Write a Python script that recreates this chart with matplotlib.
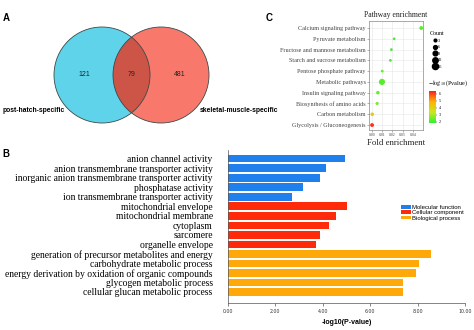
import numpy as np
import matplotlib
matplotlib.use("Agg")
import matplotlib.pyplot as plt
from matplotlib.patches import Circle, Patch
from matplotlib.lines import Line2D
from matplotlib.colors import LinearSegmentedColormap, Normalize

# ---- A: venn ----
venn_sets = ["post-hatch-specific", "skeletal-muscle-specific"]
venn_counts = [121, 79, 481]  # only left, shared, only right

# ---- B: GO terms ----
go_terms = [
    "anion channel activity",
    "anion transmembrane transporter activity",
    "inorganic anion transmembrane transporter activity",
    "phosphatase activity",
    "ion transmembrane transporter activity",
    "mitochondrial envelope",
    "mitochondrial membrane",
    "cytoplasm",
    "sarcomere",
    "organelle envelope",
    "generation of precursor metabolites and energy",
    "carbohydrate metabolic process",
    "energy derivation by oxidation of organic compounds",
    "glycogen metabolic process",
    "cellular glucan metabolic process",
]
go_logp = [4.93, 4.15, 3.87, 3.17, 2.72,
           5.04, 4.56, 4.27, 3.90, 3.73,
           8.55, 8.06, 7.92, 7.39, 7.39]
go_class = ["MF"] * 5 + ["CC"] * 5 + ["BP"] * 5
class_names = {"MF": "Molecular function", "CC": "Cellular component", "BP": "Biological process"}
class_colors = {"MF": "#1f7fec", "CC": "#ff2a0a", "BP": "#ffa80a"}
b_ticks = [0, 2, 4, 6, 8, 10]

# ---- C: KEGG dot plot ----
pathways = [
    "Calcium signaling pathway",
    "Pyruvate metabolism",
    "Fructose and mannose metabolism",
    "Starch and sucrose metabolism",
    "Pentose phosphate pathway",
    "Metabolic pathways",
    "Insulin signaling pathway",
    "Biosynthesis of amino acids",
    "Carbon metabolism",
    "Glycolysis / Gluconeogenesis",
]
fold_enr = [0.0483, 0.0217, 0.019, 0.018, 0.010, 0.0097, 0.0057, 0.005, 0.0002, 0.0]
path_count = [6, 3, 3, 3, 3, 15, 5, 4, 5, 6]
path_logp = [2.3, 2.0, 2.0, 2.0, 2.3, 2.2, 2.4, 2.6, 4.2, 6.2]
c_ticks = [0.00, 0.01, 0.02, 0.03, 0.04]
count_legend = [3, 6, 9, 12, 15]

W, H = 474, 330
fig = plt.figure(figsize=(W / 100, H / 100), dpi=100)

def frac(x0, y0, x1, y1):
    # pixel box (top-left origin) -> figure fraction
    return [x0 / W, 1 - y1 / H, (x1 - x0) / W, (y1 - y0) / H]

# background axes in pixel units for venn + panel letters
bg = fig.add_axes([0, 0, 1, 1])
bg.set_xlim(0, W)
bg.set_ylim(H, 0)
bg.axis("off")

r = 48
c1 = Circle((102, 75), r, facecolor="#5fd3ea", edgecolor="none")
c2 = Circle((161, 75), r, facecolor="#f8796b", edgecolor="none")
bg.add_patch(c1)
bg.add_patch(c2)
ov = Circle((161, 75), r, facecolor="#cc5548", edgecolor="none")
bg.add_patch(ov)
ov.set_clip_path(c1)
# outlines on top
bg.add_patch(Circle((102, 75), r, fill=False, edgecolor="#3a4a4a", lw=0.6))
bg.add_patch(Circle((161, 75), r, fill=False, edgecolor="#3a4a4a", lw=0.6))
for xpos, n in zip([84, 132, 180], venn_counts):
    bg.text(xpos, 75, str(n), ha="center", va="center", fontsize=5,
            family="Liberation Sans", color="#222222")
bg.text(3, 111, venn_sets[0], ha="left", va="center", fontsize=4.9,
        family="Liberation Sans", weight="bold")
bg.text(200, 111, venn_sets[1], ha="left", va="center", fontsize=4.9,
        family="Liberation Sans", weight="bold")

for letter, (xl, yl) in {"A": (6, 18), "B": (6, 154), "C": (269, 18)}.items():
    bg.text(xl, yl, letter, ha="center", va="center", fontsize=7,
            family="Liberation Sans", weight="bold")

# ---- B ----
axb = fig.add_axes(frac(228, 150, 465, 303))
ypos = np.arange(len(go_terms))
axb.barh(ypos, go_logp, height=0.8,
         color=[class_colors[c] for c in go_class], edgecolor="none")
axb.set_ylim(len(go_terms) - 1 + 1.16, -0.91)
axb.set_xlim(0, 10)
axb.set_yticks(ypos)
axb.set_yticklabels(go_terms, family="Liberation Serif", fontsize=6.9)
axb.tick_params(axis="y", length=0, pad=11)
axb.set_xticks(b_ticks)
axb.set_xticklabels(["%.2f" % t for t in b_ticks], fontsize=3.4, color="#333333")
axb.tick_params(axis="x", length=2, width=0.5, pad=2, color="#555555")
axb.set_xlabel("-log10(P-value)", fontsize=5, weight="bold",
               family="Liberation Sans", labelpad=4)
for s in ["top", "right"]:
    axb.spines[s].set_visible(False)
for s in ["left", "bottom"]:
    axb.spines[s].set_linewidth(0.5)
    axb.spines[s].set_color("#555555")
handles = [Patch(facecolor=class_colors[k], label=class_names[k]) for k in ["MF", "CC", "BP"]]
fig.legend(handles=handles, loc="upper left", bbox_to_anchor=(398 / W, 1 - 202 / H),
           frameon=False, handlelength=1.6, handleheight=0.6,
           handletextpad=0.2, labelspacing=0.05, borderpad=0,
           prop={"family": "Liberation Sans", "size": 4.3})

# ---- C ----
cmap = LinearSegmentedColormap.from_list("gr", ["#2ef02e", "#c8e81e", "#ffb400", "#ff1e1e"])
norm = Normalize(1.8, 6.4)
axc = fig.add_axes(frac(369, 21, 423, 130))
yc = np.arange(len(pathways))
axc.set_axisbelow(True)
axc.grid(color="#e6e6e6", lw=0.4)
axc.scatter(fold_enr, yc, s=np.array(path_count) * 1.3, c=path_logp, cmap=cmap,
            norm=norm, edgecolors="none", zorder=3)
axc.set_xlim(-0.003, 0.05)
axc.set_ylim(len(pathways) - 1 + 0.46, -0.65)
axc.set_yticks(yc)
axc.set_yticklabels(pathways, family="Liberation Serif", fontsize=4.4, color="#444444")
axc.set_xticks(c_ticks)
axc.set_xticklabels(["%.2f" % t for t in c_ticks], family="Liberation Serif",
                    fontsize=2.8, color="#444444")
axc.tick_params(length=1.5, width=0.4, pad=1, color="#777777")
for s in axc.spines.values():
    s.set_linewidth(0.5)
    s.set_color("#888888")
axc.set_title("Pathway enrichment", family="Liberation Serif", fontsize=5.6,
              pad=3, color="#222222")
axc.set_xlabel("Fold enrichment", family="Liberation Serif", fontsize=6.3,
               labelpad=1, color="#222222")

# count legend
leg_handles = [Line2D([], [], ls="none", marker="o", color="black",
                      markersize=np.sqrt(n * 1.3)) for n in count_legend]
fig.legend(leg_handles, [str(n) for n in count_legend], loc="upper left",
           bbox_to_anchor=(428 / W, 1 - 29 / H), frameon=False, title="Count",
           prop={"family": "Liberation Serif", "size": 3.2},
           title_fontproperties={"family": "Liberation Serif", "size": 4.3},
           handlelength=0.8, handletextpad=0.3, labelspacing=0.55, borderpad=0)

# colour bar
cax = fig.add_axes(frac(429, 91, 436, 123))
cb = fig.colorbar(plt.cm.ScalarMappable(norm=norm, cmap=cmap), cax=cax)
cb.set_ticks([2, 3, 4, 5, 6])
cb.ax.tick_params(labelsize=3, length=1, width=0.3, pad=1)
cb.outline.set_visible(False)
for t in cb.ax.get_yticklabels():
    t.set_family("Liberation Serif")
bg.text(428, 83, r"$-\log_{10}$(Pvalue)", ha="left", va="center",
        fontsize=4.4, family="Liberation Serif", math_fontfamily="stix")

fig.savefig("out.png", dpi=100)
